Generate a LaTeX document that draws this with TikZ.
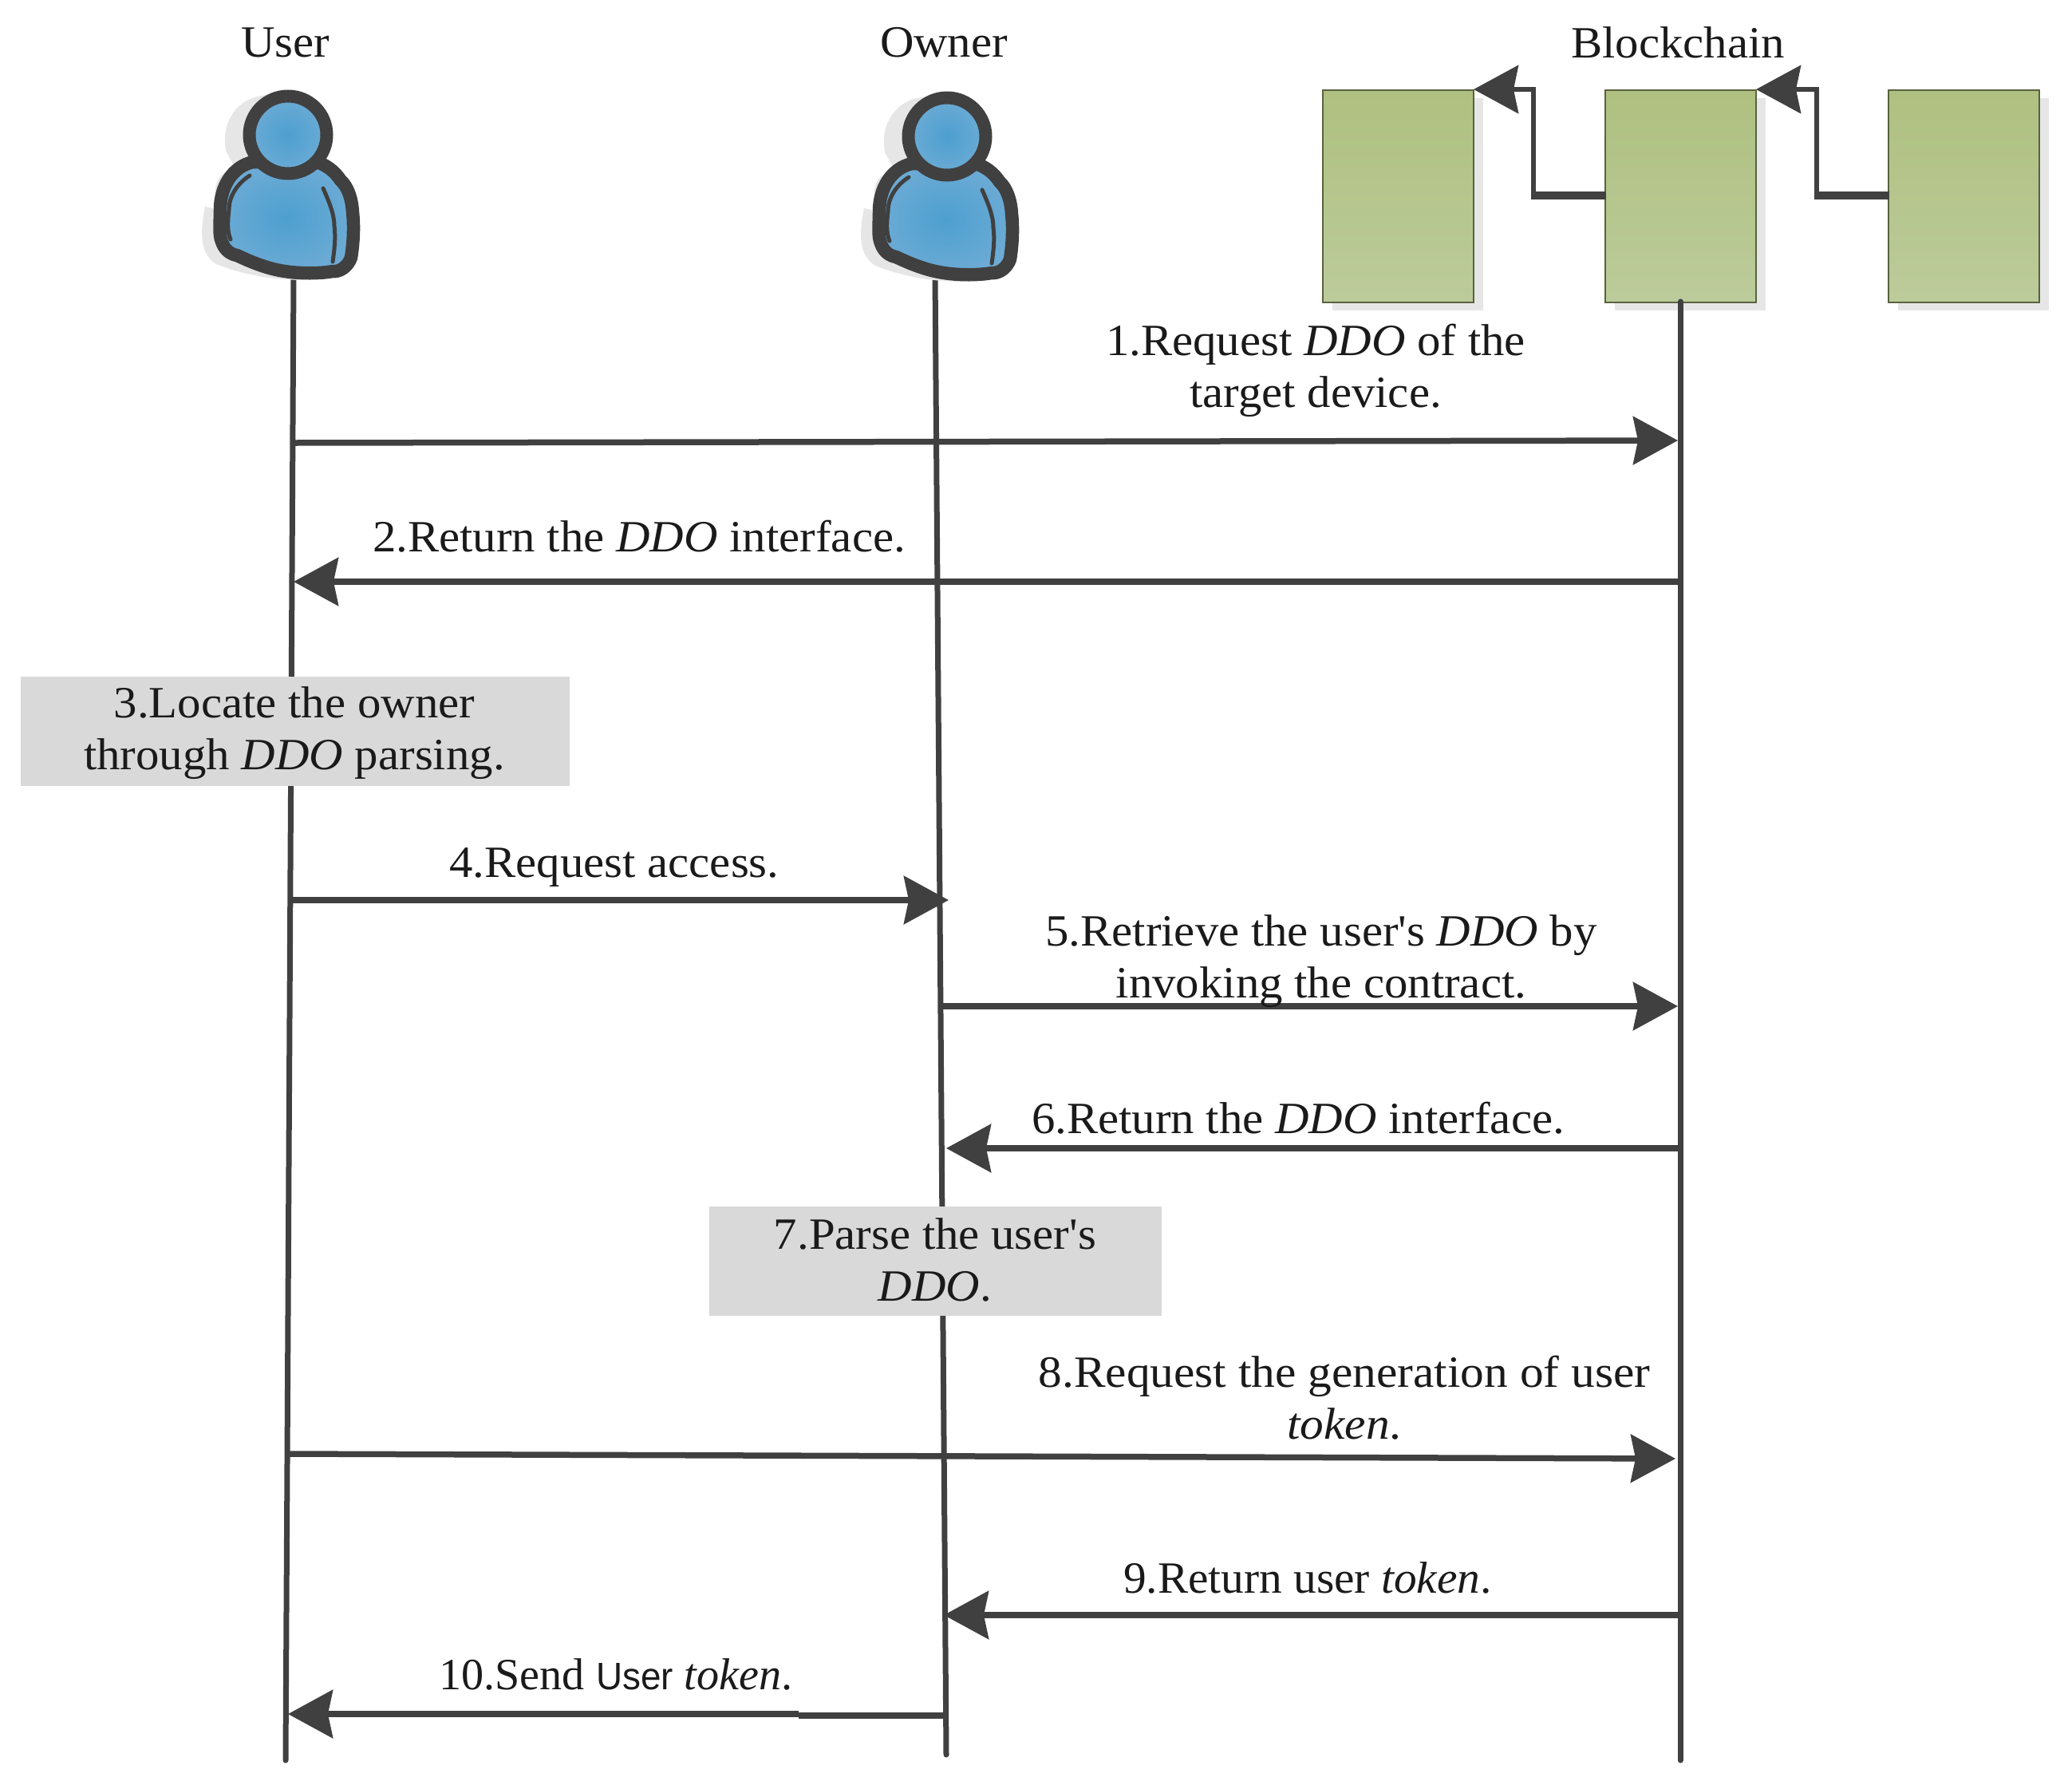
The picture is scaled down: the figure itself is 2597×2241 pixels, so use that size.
\documentclass[tikz,border=0pt]{standalone}
\usepackage{fontspec}
\setmainfont{Liberation Serif}[FakeStretch=1.05,Ligatures=TeXOff]
\setsansfont{Liberation Sans}
\usetikzlibrary{arrows.meta,calc}
\definecolor{ink}{HTML}{404040}
\definecolor{shad}{HTML}{E6E6E6}
\definecolor{boxgray}{HTML}{D9D9D9}
\definecolor{txt}{HTML}{1A1A1A}
\definecolor{greentop}{HTML}{AFC080}
\definecolor{greenbot}{HTML}{BCCB9A}
\definecolor{bluein}{HTML}{4D9FCF}
\definecolor{blueout}{HTML}{6CABD5}
\definecolor{chainedge}{HTML}{59623F}
\tikzset{
  x=1pt,y=-1pt,
  lifeline/.style={draw=ink,line width=7pt,line cap=round},
  msg/.style={draw=ink,line width=7.5pt,-{Stealth[length=56pt,width=60pt,inset=6pt]}},
  plainmsg/.style={draw=ink,line width=7.5pt},
  stub/.style={draw=ink,line width=9.5pt},
  label/.style={font=\fontsize{56}{65}\selectfont,text=txt,align=center,inner sep=0pt},
  notebox/.style={fill=boxgray,draw=none,minimum width=#1,minimum height=137pt,label,anchor=center},
  chainbox/.style={draw=chainedge,line width=1.6pt,top color=greentop,bottom color=greenbot,minimum width=189pt,minimum height=266pt,inner sep=0pt,anchor=north west},
  chainshadow/.style={fill=shad,draw=none,minimum width=189pt,minimum height=266pt,inner sep=0pt,anchor=north west},
  person/.pic={
    \fill[shad] (-22,8) ++(-44,34) .. controls (-100,50) and (-92,80) .. (-84,94)
      -- (-104,90) .. controls (-112,130) and (-108,150) .. (-90,162)
      .. controls (-40,182) and (20,186) .. (56,178) -- (60,100) -- (20,60)
      .. controls (20,20) and (0,-50) .. (-22,-50)
      .. controls (-60,-50) and (-85,-20) .. (-78,20) -- cycle;
    \shadedraw[draw=ink,line width=16.5pt,line join=round,inner color=bluein,outer color=blueout]
      (-44,34) .. controls (-70,40) and (-85,65) .. (-85,94)
      .. controls (-85,110) and (-87,125) .. (-83,134)
      .. controls (-79,146) and (-70,150) .. (-64,151)
      .. controls (-45,160) and (-25,168) .. (-4,171)
      .. controls (15,174) and (40,174) .. (56,171)
      .. controls (65,172) and (75,165) .. (79,154)
      .. controls (82,135) and (83,115) .. (81,97)
      .. controls (80,80) and (75,65) .. (66,57)
      .. controls (58,45) and (48,38) .. (36,34) -- cycle;
    \draw[draw=ink,line width=5pt,line cap=round] (-48,51) .. controls (-65,62) and (-74,78) .. (-74,94) .. controls (-76,110) and (-76,122) .. (-72,131);
    \draw[draw=ink,line width=5pt,line cap=round] (44,67) .. controls (52,85) and (58,100) .. (58,114) .. controls (60,130) and (58,145) .. (56,159);
    \shadedraw[draw=ink,line width=16pt,inner color=bluein,outer color=blueout] (0,0) circle (48.5);
  }
}
\begin{document}
\begin{tikzpicture}
\useasboundingbox (0,0) rectangle (2597,2241);

% headers
\node[label] (hUser) at (358,53) {User};
\node[label] (hOwner) at (1183,53) {Owner};
\node[label] (hChain) at (2103,53) {Blockchain};

% blockchain boxes
\foreach \n/\xx in {s1/1657,s2/2011,s3/2366}{\node[chainshadow] (\n) at (\xx+13,123) {};}
\node[chainbox] (b1) at (1657,112) {};
\node[chainbox] (b2) at (2011,112) {};
\node[chainbox] (b3) at (2366,112) {};
\coordinate (b2l) at (2013,245);
\coordinate (b3l) at (2368,245);
\coordinate (e1) at (1922,245);
\coordinate (e2) at (2277,245);
\coordinate (b1t) at (1847,112);
\coordinate (b2t) at (2201,112);
\draw[stub] (b2l) -- (1919,245);
\draw[stub] (b3l) -- (2274,245);
\draw[msg,line width=6.5pt] (e1) -- (1922,112) -- (b1t);
\draw[msg,line width=6.5pt] (e2) -- (2277,112) -- (b2t);

% lifeline anchors
\coordinate (uTop) at (368,345);
\coordinate (uBot) at (358,2206);
\coordinate (oTop) at (1172,345);
\coordinate (oBot) at (1186,2199);
\coordinate (cTop) at (2106,378);
\coordinate (cBot) at (2106,2206);

\draw[lifeline] (uTop) -- (uBot);
\draw[lifeline] (oTop) -- (oBot);
\draw[lifeline] (cTop) -- (cBot);

% people
\pic at (361,169) {person};
\pic at (1187,171) {person};

% message ends
\coordinate (m1a) at (368,555);   \coordinate (m1b) at (2103,552);
\coordinate (m2a) at (2106,729);  \coordinate (m2b) at (368,729);
\coordinate (m4a) at (364,1128);  \coordinate (m4b) at (1189,1128);
\coordinate (m5a) at (1181,1261); \coordinate (m5b) at (2103,1261);
\coordinate (m6a) at (2106,1439); \coordinate (m6b) at (1186,1439);
\coordinate (m8a) at (358,1822);  \coordinate (m8b) at (2100,1828);
\coordinate (m9a) at (2106,2024); \coordinate (m9b) at (1183,2024);
\coordinate (m0a) at (1184,2150); \coordinate (m0j) at (1001,2150);
\coordinate (m0k) at (1001,2148); \coordinate (m0b) at (361,2148);

\draw[msg] (m1a) -- (m1b);
\draw[msg] (m2a) -- (m2b);
\draw[msg] (m4a) -- (m4b);
\draw[msg] (m5a) -- (m5b);
\draw[msg] (m6a) -- (m6b);
\draw[msg] (m8a) -- (m8b);
\draw[msg] (m9a) -- (m9b);
\draw[plainmsg] (m0a) -- (m0j);
\draw[msg] (m0k) -- (m0b);

% grey notes
\node[notebox=688pt] (n3) at (370,916.5) {};
\node[label] (t3) at (369,919) {3.Locate the owner\\through \textit{DDO} parsing.};
\node[notebox=567pt] (n7) at (1172.5,1580.5) {};
\node[label] (t7) at (1172,1579) {7.Parse the user's\\\textit{DDO}.};

% labels
\node[label] (l1) at (1649,464) {1.Request \textit{DDO} of the\\target device.};
\node[label] (l2) at (801,672) {2.Return the \textit{DDO} interface.};
\node[label] (l4) at (770,1087) {4.Request access.};
\node[label] (l5) at (1656,1205) {5.Retrieve the user's \textit{DDO} by\\invoking the contract.};
\node[label] (l6) at (1627,1401) {6.Return the \textit{DDO} interface.};
\node[label,xscale=1.01,transform shape] (l8) at (1685,1752) {8.Request the generation of user\\\textit{token}.};
\node[label,xscale=.975,transform shape] (l9) at (1639,1977) {9.Return user \textit{token}.};
\node[label,xscale=.955,transform shape] (l10) at (772,2098) {10.Send {\sffamily\fontsize{48}{65}\selectfont User} \textit{token}.};
\end{tikzpicture}
\end{document}
